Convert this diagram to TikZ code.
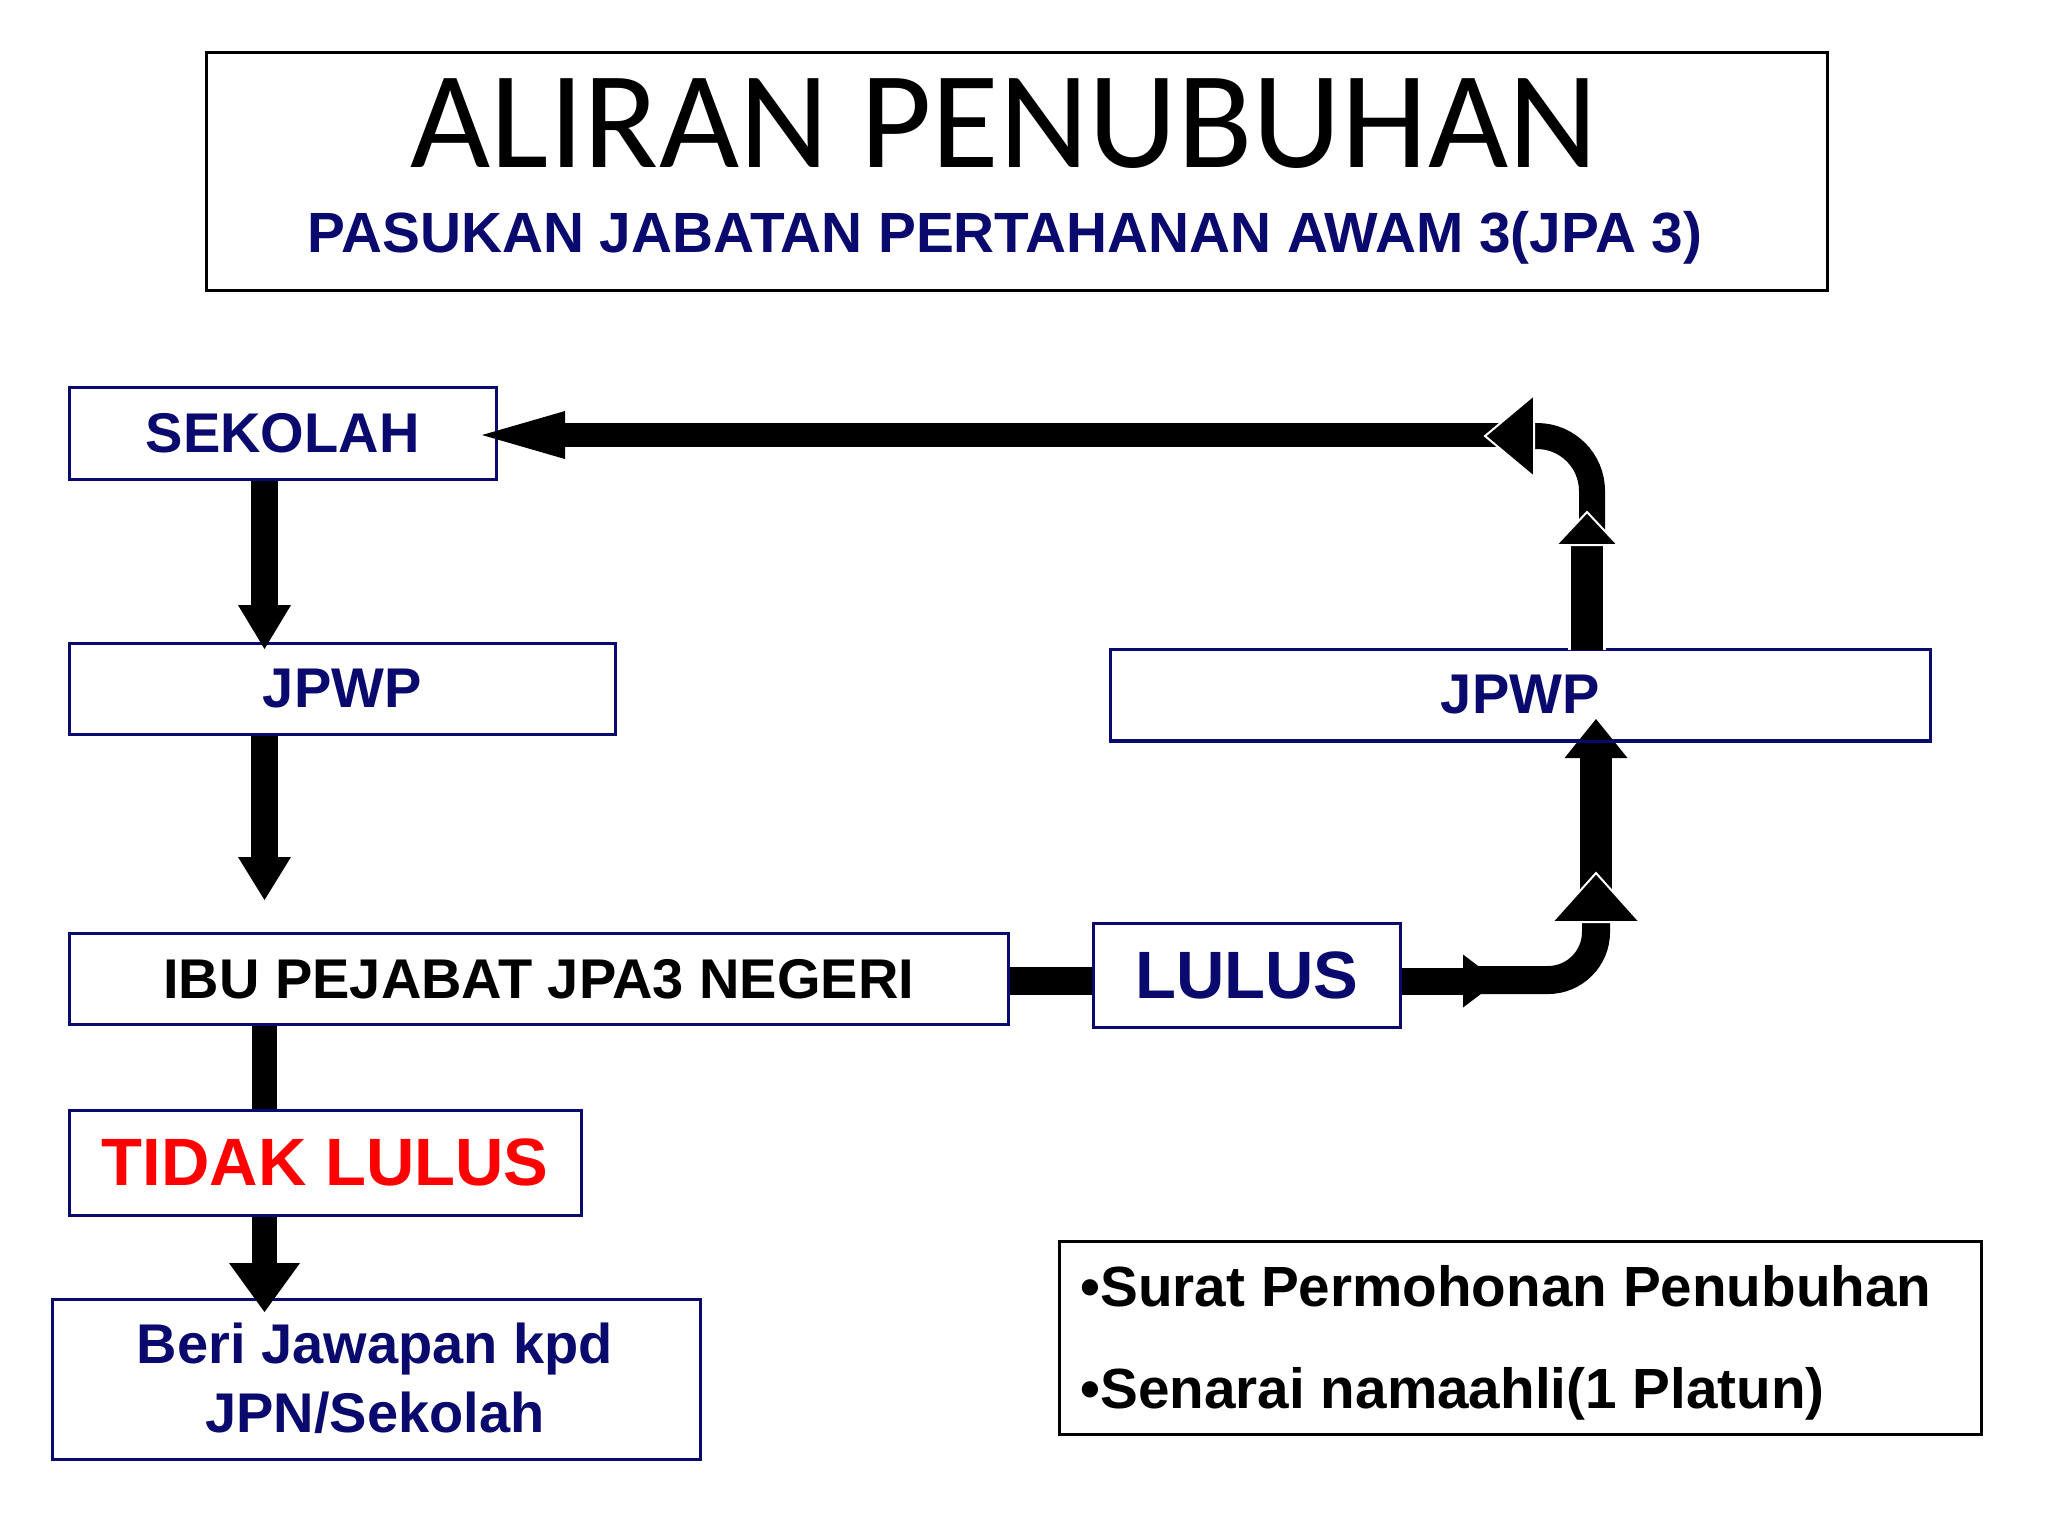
\documentclass[tikz,border=0pt]{standalone}
\usepackage{fontspec}
\setmainfont{Liberation Sans}
\newfontfamily\titlefont{Carlito}
\usetikzlibrary{calc}
\definecolor{navy}{RGB}{10,10,110}
\definecolor{tred}{RGB}{255,0,0}
\tikzset{
 box/.style={draw=navy, line width=0.25mm, inner sep=0pt, anchor=north west, text=navy,
   font=\bfseries\fontsize{15.93pt}{19pt}\selectfont},
 bigtxt/.style={font=\bfseries\fontsize{19.06pt}{23pt}\selectfont},
 kbox/.style={draw=black, line width=0.28mm, inner sep=0pt, anchor=north west},
 txt/.style={inner sep=0pt, text=navy, font=\bfseries\fontsize{15.93pt}{19pt}\selectfont},
 halo/.style={preaction={draw=white, line width=#1}},
 whitehead/.style={fill=black, draw=white, line width=0.2mm, line join=miter},
 plainhead/.style={fill=black},
}
\begin{document}
\begin{tikzpicture}[x=0.1mm,y=-0.1mm]
\path[use as bounding box, fill=white] (0,0) rectangle (2048,1536);

% title box
\node[kbox, minimum width=162.1mm, minimum height=23.8mm] (title) at (205,51) {};
\node[anchor=base, inner sep=0pt, font=\titlefont\fontsize{39.4pt}{45pt}\selectfont] (t1) at (1004,167) {ALIRAN PENUBUHAN};
\node[anchor=base, inner sep=0pt, text=navy, font=\bfseries\fontsize{16.15pt}{19pt}\selectfont] (t2) at (1005,252) {PASUKAN JABATAN PERTAHANAN AWAM 3(JPA 3)};

% boxes
\node[box, minimum width=42.7mm, minimum height=9.2mm] (sek) at (68,386) {SEKOLAH};
\node[box, minimum width=54.6mm, minimum height=9.1mm] (jp1) at (68,642) {JPWP};
\node[box, text=black, minimum width=93.9mm, minimum height=9.1mm] (ibu) at (68,932) {IBU PEJABAT JPA3 NEGERI};
\node[box, bigtxt, minimum width=30.7mm, minimum height=10.4mm] (lulus) at (1092,922) {LULUS};
\node[box, bigtxt, text=tred, minimum width=51.2mm, minimum height=10.5mm] (tidak) at (68,1109) {TIDAK LULUS};
\node[box, minimum width=64.8mm, minimum height=16mm] (beri) at (51,1298) {};
\node[txt, anchor=base] (beri1) at (375,1363) {Beri Jawapan kpd};
\node[txt, anchor=base] (beri2) at (375,1432) {JPN/Sekolah};
\node[box, minimum width=82mm, minimum height=9.1mm] (jp2) at (1109,648) {JPWP};
\node[kbox, minimum width=92.2mm, minimum height=19.3mm] (notes) at (1058,1240) {};
\node[txt, text=black, anchor=base west, font=\bfseries\fontsize{16.12pt}{19pt}\selectfont] (n1) at (1080,1306) {•Surat Permohonan Penubuhan};
\node[txt, text=black, anchor=base west, font=\bfseries\fontsize{16.12pt}{19pt}\selectfont] (n2) at (1080,1408) {•Senarai namaahli(1 Platun)};

% helper coordinates
\coordinate (col) at (264.5,0);
\coordinate (row) at (0,981);
\coordinate (h1) at (264.5,649);
\coordinate (h2) at (264.5,900);
\coordinate (h4) at (264.5,1312);
\coordinate (h6) at (1498,981);
\coordinate (h7) at (1596,873);
\coordinate (h8) at (1596,719);
\coordinate (h9) at (1587,512);
\coordinate (h10) at (1485,436);
\coordinate (h11) at (482,435);

% left column
\draw[line width=2.7mm] (sek.south -| col) -- (264.5,606);
\fill[plainhead] (h1) -- ++(-26.5,-44) -- ++(53,0) -- cycle;
\draw[line width=2.7mm] (jp1.south -| col) -- (264.5,858);
\fill[plainhead] (h2) -- ++(-26.5,-43) -- ++(53,0) -- cycle;
\draw[line width=2.5mm] (ibu.south -| col) -- (tidak.north -| col);
\draw[line width=2.5mm] (tidak.south -| col) -- (264.5,1264);
\fill[plainhead] (h4) -- ++(-35.5,-49) -- ++(71,0) -- cycle;

% ibu -> lulus
\draw[line width=2.8mm] (ibu.east |- row) -- (lulus.west |- row);

% lulus -> jp2
\draw[line width=3.2mm] (1596,905) -- (1596,757);
\fill[plainhead] (h8) -- ++(-31.5,39) -- ++(63,0) -- cycle;
\draw[navy, line width=0.25mm] (jp2.south west) -- (jp2.south east);
\draw[line width=2.8mm, rounded corners=4.8mm] (1470,980) -| (1596,920);
\filldraw[whitehead] (h7) -- ++(-44,49) -- ++(88,0) -- cycle;
\draw[line width=2.7mm] (lulus.east |- row) -- (1464,981);
\fill[plainhead] (h6) -- ++(-35,-26.5) -- ++(0,53) -- cycle;

% jp2 -> sekolah
\draw[line width=2.4mm] (1510,435) -- (564,435);
\fill[plainhead] (h11) -- ++(83,-24) -- ++(0,48) -- cycle;
\draw[line width=2.6mm, rounded corners=5.5mm] (1592,540) |- (1533,436);
\filldraw[whitehead] (h10) -- ++(49,-41) -- ++(0,82) -- cycle;
\draw[line width=3.2mm, halo=3.8mm] (jp2.north -| h9) ++(0,2) -- (1587,544);
\filldraw[whitehead] (h9) -- ++(-31,33) -- ++(62,0) -- cycle;
\end{tikzpicture}
\end{document}
